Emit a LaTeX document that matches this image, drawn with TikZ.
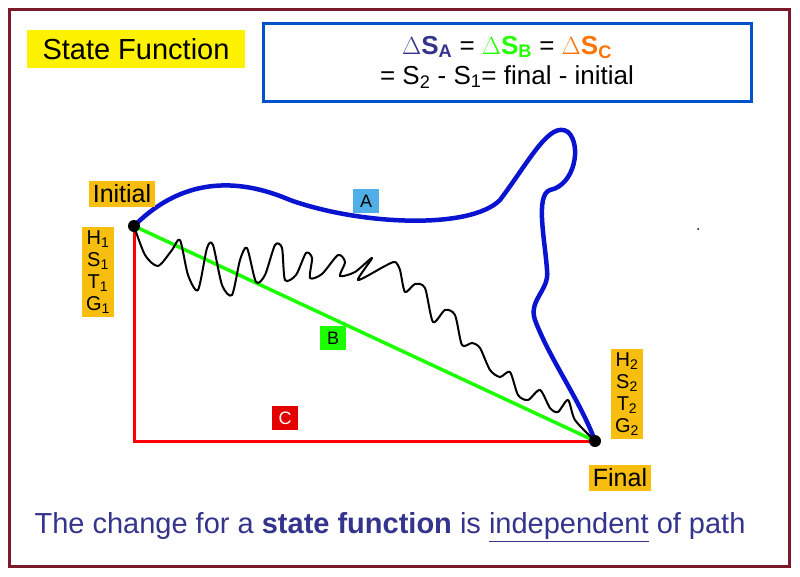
\documentclass[tikz,border=0pt]{standalone}
\usepackage{fontspec}
\setmainfont{Liberation Sans}
\begin{document}
\begin{tikzpicture}[x=1pt,y=-1pt,
  gold/.style={fill=gbox,inner sep=4pt,font=\fontsize{25}{27}\selectfont},
  var/.style={fill=gbox,align=center,inner sep=4pt,font=\fontsize{20}{22}\selectfont},
  lab/.style={minimum width=26pt,minimum height=24pt,inner sep=0pt,font=\fontsize{18}{19}\selectfont}]
\definecolor{gbox}{HTML}{F7BE10}
\definecolor{frame}{HTML}{7A1A2A}
\definecolor{navy}{HTML}{34348C}
\definecolor{dblue}{HTML}{0A14D0}
\useasboundingbox (0,0) rectangle (800,576);
\fill[white] (0,0) rectangle (800,576);
\draw[frame,line width=3pt] (9,9) rectangle (789,566);
\node[fill=yellow,minimum width=218pt,minimum height=38pt,font=\fontsize{29}{31}\selectfont] (title) at (136,49) {State Function};
\node[draw=blue!60!cyan!80!black,line width=3pt,minimum width=488pt,minimum height=78pt,align=center,font=\fontsize{26}{30}\selectfont] (eq) at (507,62)
 {\textcolor{navy}{$\Delta$\textbf{S\textsubscript{A}}} = \textcolor{green!80!lime}{$\Delta$\textbf{S\textsubscript{B}}} = \textcolor{orange!90!red}{$\Delta$\textbf{S\textsubscript{C}}}\\ = S\textsubscript{2} - S\textsubscript{1}= final - initial};
\coordinate (I) at (134,226);
\coordinate (F) at (595,441);
\coordinate (corner) at (134,441);
\draw[red,line width=3pt] (I) -- (corner) -- (F);
\draw[green!85!lime,line width=3.5pt] (I) -- (F);
\draw[dblue,line width=4.5pt,line cap=round] (I) .. controls (170,190) and (220,170) .. (290,200)
  .. controls (360,225) and (470,230) .. (500,200)
  .. controls (530,160) and (550,120) .. (568,132)
  .. controls (582,145) and (575,185) .. (550,190)
  .. controls (535,195) and (545,240) .. (547,270)
  .. controls (550,290) and (528,300) .. (535,320)
  .. controls (550,360) and (580,400) .. (F);
\draw[black,line width=2pt,line join=round] plot[smooth,tension=0.45] coordinates {
 (I) (145,255) (158,266) (172,250) (180,240) (188,275) (198,290) (207,248) (213,245) (222,285) (232,295) (240,260) (247,248) (256,282) (265,275) (275,245) (282,248) (285,280) (296,275) (306,253) (312,258) (310,278) (322,274) (338,255) (345,262) (340,276) (355,272) (372,258) (358,280) (385,266) (395,262) (400,270) (405,292) (415,284) (425,288) (433,322) (445,310) (455,315) (462,345) (472,343) (480,348) (490,370) (500,377) (510,372) (518,395) (528,400) (540,390) (550,408) (558,412) (568,400) (575,420) (F)};
\fill (I) circle (6pt);
\fill (F) circle (6pt);
\node[gold] (init) at (122,194) {Initial};
\node[gold] (fin) at (620,478) {Final};
\node[var] (v1) at (98,272) {H\textsubscript{1}\\S\textsubscript{1}\\T\textsubscript{1}\\G\textsubscript{1}};
\node[var] (v2) at (627,394) {H\textsubscript{2}\\S\textsubscript{2}\\T\textsubscript{2}\\G\textsubscript{2}};
\node[lab,fill=cyan!80!blue!70] (A) at (366,201) {A};
\node[lab,fill=green!85!lime] (B) at (333,338) {B};
\node[lab,fill=red!90!black,text=white] (C) at (285,418) {C};
\node[navy,font=\fontsize{29}{32}\selectfont] (cap) at (390,527) {The change for a \textbf{state function} is \underline{independent} of path};
\fill (698,229) circle (1pt);
\end{tikzpicture}
\end{document}
